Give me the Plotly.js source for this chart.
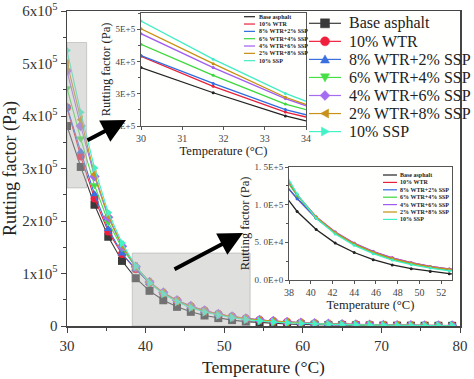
<!DOCTYPE html>
<html><head><meta charset="utf-8">
<script src="https://cdn.plot.ly/plotly-3.0.1.min.js"></script>
<style>html,body{margin:0;padding:0;background:#fff}#chart{width:474px;height:379px}</style>
</head><body><div id="chart"></div>
<script>
// ---- data ----
const temperature = [30, 31.75, 33.5, 35.25, 37, 38.75, 40.5, 42.25, 44, 45.75, 47.5, 49.25, 51, 52.75, 54.5, 56.25, 58, 59.75, 61.5, 63.25, 65, 66.75, 68.5, 70.25, 72, 73.75, 75.5, 77.25, 79];
const seriesNames = ["Base asphalt", "10% WTR", "8% WTR+2% SSP", "6% WTR+4% SSP", "4% WTR+6% SSP", "2% WTR+8% SSP", "10% SSP"];
const baseAsphalt = [381000, 303000, 231000, 170000, 124000, 91000, 67000, 49000, 36500, 27000, 20000, 15000, 11200, 8400, 6400, 4900, 3800, 3000, 2350, 1850, 1480, 1190, 960, 780, 640, 530, 440, 370, 310];
const wtr10 = [416000, 323000, 243000, 180000, 137000, 108000, 82000, 63000, 48500, 37500, 29500, 23000, 18000, 14500, 11500, 9200, 7400, 6000, 4900, 4000, 3300, 2700, 2250, 1880, 1570, 1320, 1120, 950, 810];
const wtr8ssp2 = [418000, 332000, 251000, 185000, 138000, 108000, 82000, 62500, 48000, 37000, 28500, 22000, 17300, 13800, 11000, 8800, 7100, 5800, 4700, 3850, 3150, 2600, 2150, 1800, 1500, 1260, 1060, 900, 770];
const wtr6ssp4 = [453000, 357000, 268000, 198000, 148000, 112000, 83000, 62500, 47500, 36000, 27500, 21500, 16800, 13200, 10500, 8400, 6700, 5400, 4400, 3600, 2950, 2430, 2010, 1670, 1390, 1160, 980, 830, 700];
const wtr4ssp6 = [486000, 381000, 285000, 207000, 152000, 113000, 84000, 64000, 49000, 38000, 29500, 23000, 18000, 14600, 11700, 9400, 7600, 6200, 5100, 4200, 3450, 2850, 2370, 1980, 1660, 1390, 1180, 1000, 850];
const wtr2ssp8 = [501000, 393000, 289000, 210000, 154000, 113000, 83500, 63000, 48000, 37000, 28500, 22300, 17500, 14000, 11200, 9000, 7200, 5900, 4800, 3900, 3200, 2640, 2180, 1820, 1520, 1280, 1080, 910, 780];
const ssp10 = [525000, 407000, 301000, 216000, 158000, 114000, 82000, 61000, 46000, 35000, 26500, 20500, 15800, 12200, 9600, 7600, 6100, 4900, 3950, 3200, 2600, 2120, 1740, 1440, 1190, 990, 830, 700, 590];
const mainYTickVals = [0, 100000, 200000, 300000, 400000, 500000, 600000];
const mainYTickText = ["0", "1x10<sup>5</sup>", "2x10<sup>5</sup>", "3x10<sup>5</sup>", "4x10<sup>5</sup>", "5x10<sup>5</sup>", "6x10<sup>5</sup>"];
const inset1YTickVals = [200000, 300000, 400000, 500000];
const inset1YTickText = ["2E+5", "3E+5", "4E+5", "5E+5"];
const inset2YTickVals = [0, 50000, 100000, 150000];
const inset2YTickText = ["0. 0E+0", "5. 0E+4", "1. 0E+5", "1. 5E+5"];

// ---- styling ----
const allSeries = [baseAsphalt, wtr10, wtr8ssp2, wtr6ssp4, wtr4ssp6, wtr2ssp8, ssp10];
const colors = ["#3a3a3a", "#f0203c", "#3a6fe0", "#46e046", "#a46cf0", "#c8921a", "#44f2c8"];
const insetColors = ["#222222", "#e8203a", "#2f6ce0", "#3cd83c", "#a05cf0", "#c8900f", "#40eec4"];
const symbols = ["square", "circle", "triangle-up", "triangle-down", "diamond", "triangle-left", "triangle-right"];
const SERIF = "Liberation Serif, Times New Roman, serif";
const W = 474, H = 379;
const px = x => x / W, py = y => 1 - y / H;

const traces = [];
allSeries.forEach((vals, i) => {
  traces.push({x: temperature, y: vals, name: seriesNames[i], type: "scatter", mode: "lines+markers",
    xaxis: "x", yaxis: "y", line: {color: colors[i], width: 1.1},
    marker: {symbol: symbols[i], size: 8, color: colors[i]}, showlegend: false});
});
allSeries.forEach((vals, i) => {
  traces.push({x: temperature, y: vals, name: seriesNames[i], type: "scatter", mode: "lines+markers",
    xaxis: "x2", yaxis: "y2", line: {color: insetColors[i], width: 1.3},
    marker: {symbol: "circle", size: 3, color: insetColors[i]}, showlegend: false});
});
allSeries.forEach((vals, i) => {
  traces.push({x: temperature, y: vals, name: seriesNames[i], type: "scatter", mode: "lines+markers",
    xaxis: "x3", yaxis: "y3", line: {color: insetColors[i], width: 1.3},
    marker: {symbol: "circle", size: 3, color: insetColors[i]}, showlegend: false});
});

const shapes = [
  {type: "rect", xref: "x", yref: "y", x0: 30, x1: 32.5, y0: 263000, y1: 540000, layer: "above",
   fillcolor: "rgba(185,185,185,0.45)", line: {color: "rgba(160,160,160,0.6)", width: 0.8}},
  {type: "rect", xref: "x", yref: "y", x0: 38.3, x1: 53.3, y0: 0, y1: 139000, layer: "above",
   fillcolor: "rgba(185,185,185,0.45)", line: {color: "rgba(160,160,160,0.6)", width: 0.8}}
];
const annotations = [];

// marker glyph shape helper (pixel coordinates -> paper)
function glyph(sym, cx, cy, r, color) {
  const P = pts => "M" + pts.map(p => px(p[0]) + "," + py(p[1])).join(" L") + " Z";
  let s;
  if (sym === "square") s = {type: "rect", x0: px(cx - r), x1: px(cx + r), y0: py(cy + r), y1: py(cy - r)};
  else if (sym === "circle") s = {type: "circle", x0: px(cx - r), x1: px(cx + r), y0: py(cy + r), y1: py(cy - r)};
  else if (sym === "triangle-up") s = {type: "path", path: P([[cx, cy - r], [cx + r, cy + r * 0.8], [cx - r, cy + r * 0.8]])};
  else if (sym === "triangle-down") s = {type: "path", path: P([[cx, cy + r], [cx + r, cy - r * 0.8], [cx - r, cy - r * 0.8]])};
  else if (sym === "diamond") s = {type: "path", path: P([[cx, cy - r * 1.1], [cx + r * 1.1, cy], [cx, cy + r * 1.1], [cx - r * 1.1, cy]])};
  else if (sym === "triangle-left") s = {type: "path", path: P([[cx - r, cy], [cx + r * 0.8, cy - r], [cx + r * 0.8, cy + r]])};
  else s = {type: "path", path: P([[cx + r, cy], [cx - r * 0.8, cy - r], [cx - r * 0.8, cy + r]])};
  return Object.assign(s, {xref: "paper", yref: "paper", layer: "above", fillcolor: color, line: {color: color, width: 0.5}});
}

// main legend
seriesNames.forEach((nm, i) => {
  const y = 23.3 + 18.05 * i;
  shapes.push({type: "line", xref: "paper", yref: "paper", x0: px(309), x1: px(341), y0: py(y), y1: py(y), layer: "above", line: {color: colors[i], width: 1.2}});
  shapes.push(glyph(symbols[i], 325, y, 4.5, colors[i]));
  annotations.push({xref: "paper", yref: "paper", x: px(347), y: py(y), xanchor: "left", yanchor: "middle", showarrow: false,
    text: nm, font: {family: SERIF, size: 16, color: "#222"}});
});
// inset 1 legend
seriesNames.forEach((nm, i) => {
  const y = 16.7 + 7.33 * i;
  shapes.push({type: "line", xref: "paper", yref: "paper", x0: px(244), x1: px(255), y0: py(y), y1: py(y), layer: "above", line: {color: insetColors[i], width: 1.2}});
  annotations.push({xref: "paper", yref: "paper", x: px(257), y: py(y), xanchor: "left", yanchor: "middle", showarrow: false,
    text: "<b>" + nm + "</b>", font: {family: SERIF, size: 6, color: "#222"}});
});
// inset 2 legend
seriesNames.forEach((nm, i) => {
  const y = 175 + 7.4 * i;
  shapes.push({type: "line", xref: "paper", yref: "paper", x0: px(383), x1: px(397), y0: py(y), y1: py(y), layer: "above", line: {color: insetColors[i], width: 1.2}});
  annotations.push({xref: "paper", yref: "paper", x: px(398), y: py(y), xanchor: "left", yanchor: "middle", showarrow: false,
    text: "<b>" + nm + "</b>", font: {family: SERIF, size: 6, color: "#222"}});
});
// arrows
annotations.push({xref: "paper", yref: "paper", x: px(126), y: py(120), ax: -40, ay: 21, text: "", showarrow: true,
  arrowhead: 2, arrowsize: 1.2, arrowwidth: 4, arrowcolor: "#000"});
annotations.push({xref: "paper", yref: "paper", x: px(243), y: py(233), ax: -70, ay: 37, text: "", showarrow: true,
  arrowhead: 2, arrowsize: 1.2, arrowwidth: 4, arrowcolor: "#000"});

const baseAxis = {showgrid: false, zeroline: false, showline: true, mirror: true, ticks: "outside"};
const layout = {
  width: W, height: H, margin: {l: 0, r: 0, t: 0, b: 0}, showlegend: false,
  paper_bgcolor: "#ffffff", plot_bgcolor: "#fffffe",
  font: {family: SERIF, color: "#222"},
  xaxis: Object.assign({}, baseAxis, {domain: [px(67), px(460)], range: [30, 80], anchor: "y",
    tickmode: "linear", tick0: 30, dtick: 10, ticklen: 5, linecolor: "#444", linewidth: 1.5, tickcolor: "#444",
    minor: {tickmode: "linear", tick0: 30, dtick: 5, ticklen: 3, ticks: "outside", tickcolor: "#444"},
    tickfont: {family: SERIF, size: 15, color: "#333"},
    title: {text: "Temperature (°C)", font: {family: SERIF, size: 17.5, color: "#222"}, standoff: 8}}),
  yaxis: Object.assign({}, baseAxis, {domain: [py(326), py(11)], range: [0, 600000], anchor: "x",
    tickmode: "array", tickvals: mainYTickVals, ticktext: mainYTickText, ticklen: 5, linecolor: "#444", linewidth: 1.5, tickcolor: "#444",
    minor: {tickmode: "linear", tick0: 0, dtick: 50000, ticklen: 3, ticks: "outside", tickcolor: "#444"},
    tickfont: {family: SERIF, size: 15, color: "#333"},
    title: {text: "Rutting factor (Pa)", font: {family: SERIF, size: 18, color: "#222"}, standoff: 2}}),
  xaxis2: Object.assign({}, baseAxis, {domain: [px(141), px(306)], range: [30, 34], anchor: "y2",
    tickmode: "linear", tick0: 30, dtick: 1, ticklen: 3, linecolor: "#555", linewidth: 1, tickcolor: "#555",
    tickfont: {family: SERIF, size: 10, color: "#444"},
    title: {text: "Temperature (°C)", font: {family: SERIF, size: 12.5, color: "#222"}, standoff: 2}}),
  yaxis2: Object.assign({}, baseAxis, {domain: [py(126), py(13)], range: [200000, 550000], anchor: "x2",
    tickmode: "array", tickvals: inset1YTickVals, ticktext: inset1YTickText, ticklen: 3, linecolor: "#555", linewidth: 1, tickcolor: "#555",
    minor: {tickmode: "linear", tick0: 0, dtick: 50000, ticklen: 2, ticks: "outside", tickcolor: "#555"},
    tickfont: {family: SERIF, size: 9, color: "#444"},
    title: {text: "Rutting factor (Pa)", font: {family: SERIF, size: 12.5, color: "#222"}, standoff: 2}}),
  xaxis3: Object.assign({}, baseAxis, {domain: [px(289), px(452)], range: [38, 53], anchor: "y3",
    tickmode: "linear", tick0: 38, dtick: 2, ticklen: 3, linecolor: "#555", linewidth: 1, tickcolor: "#555",
    tickfont: {family: SERIF, size: 10, color: "#444"},
    title: {text: "Temperature (°C)", font: {family: SERIF, size: 12.5, color: "#222"}, standoff: 2}}),
  yaxis3: Object.assign({}, baseAxis, {domain: [py(280), py(167)], range: [0, 150000], anchor: "x3",
    tickmode: "array", tickvals: inset2YTickVals, ticktext: inset2YTickText, ticklen: 3, linecolor: "#555", linewidth: 1, tickcolor: "#555",
    minor: {tickmode: "linear", tick0: 0, dtick: 25000, ticklen: 2, ticks: "outside", tickcolor: "#555"},
    tickfont: {family: SERIF, size: 9, color: "#444"},
    title: {text: "Rutting factor (Pa)", font: {family: SERIF, size: 12.5, color: "#222"}, standoff: 2}}),
  shapes: shapes, annotations: annotations
};
Plotly.newPlot("chart", traces, layout, {staticPlot: true, displayModeBar: false});
</script></body></html>
